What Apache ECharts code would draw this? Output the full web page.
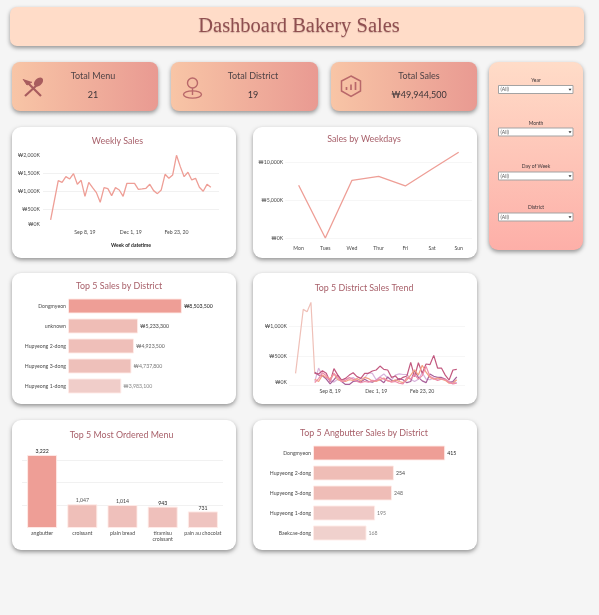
<!DOCTYPE html>
<html>
<head>
<meta charset="utf-8">
<title>Dashboard Bakery Sales</title>
<script src="https://cdn.jsdelivr.net/npm/echarts@6/dist/echarts.min.js"></script>
<style>
html,body{margin:0;padding:0;background:#f5f5f5}
#dash{width:599px;height:615px}
</style>
</head>
<body>
<div id="dash"></div>
<script>
// Week start dates shared by the two weekly line charts (no orders in the week of Jul 14)
const weekStarts = ['2019-07-07','2019-07-21','2019-07-28','2019-08-04','2019-08-11','2019-08-18','2019-08-25','2019-09-01','2019-09-08','2019-09-15','2019-09-22','2019-09-29','2019-10-06','2019-10-13','2019-10-20','2019-10-27','2019-11-03','2019-11-10','2019-11-17','2019-11-24','2019-12-01','2019-12-08','2019-12-15','2019-12-22','2019-12-29','2020-01-05','2020-01-12','2020-01-19','2020-01-26','2020-02-02','2020-02-09','2020-02-16','2020-02-23','2020-03-01','2020-03-08','2020-03-15','2020-03-22','2020-03-29','2020-04-05','2020-04-12','2020-04-19','2020-04-26'];
const weeklySales = [204,1296,1250,1407,1343,1491,1194,1306,861,1250,1102,963,694,1102,1074,880,1102,1037,861,1222,1222,1222,1056,1065,1083,1194,1019,935,1037,1472,1361,1454,2000,1685,1407,1528,1315,1361,1111,1000,1194,1111];
const weekTickDates = ['2019-09-08','2019-12-01','2020-02-23'];
const weekTickLabels = ['Sep 8, 19','Dec 1, 19','Feb 23, 20'];

const weekdays = ['Mon','Tues','Wed','Thur','Fri','Sat','Sun'];
const weekdaySales = [6974,50,7632,8158,6886,9123,11316];

const districtNames = ['Dongmyeon','unknown','Hupyeong 2-dong','Hupyeong 3-dong','Hupyeong 1-dong'];
const districtSales = [8503500,5233300,4923500,4737800,3983100];

// District trends, in thousands of won; the first series only covers the opening weeks
const trendEarly = [200,1297,1257,1417,189];
const trendDongmyeon = [200,190,245,200,57,280,170,85,114,170,210,143,114,200,200,240,257,325,268,257,131,154,85,131,154,388,143,382,200,360,348,508,291,291,170,85,257,268];
const trendMauve = [220,170,160,100,20,90,170,60,10,10,60,70,50,100,60,50,80,90,40,140,80,70,110,90,40,60,250,130,70,40,190,150,130,130,100,40,60,140];
const trendLilac = [60,290,150,120,80,50,100,60,110,100,130,80,110,120,210,200,90,140,190,120,90,170,190,180,180,100,60,100,210,100,90,120,100,120,80,60,40,40];
const trendOrange = [100,60,170,130,110,190,90,70,60,90,80,110,70,130,110,70,60,90,120,70,60,90,60,40,90,170,260,170,340,220,130,100,120,100,80,30,30,90];
const trendPink = [40,110,210,160,70,200,130,60,80,130,100,60,40,60,50,80,70,130,100,80,50,60,30,20,130,100,180,100,160,320,150,110,80,100,100,50,20,30];

const menuNames = ['angbutter','croissant','plain bread','tiramisu\ncroissant','pain au chocolat'];
const menuOrders = [3222,1047,1014,943,731];

const angbutterDistricts = ['Dongmyeon','Hupyeong 2-dong','Hupyeong 3-dong','Hupyeong 1-dong','Baekcae-dong'];
const angbutterOrders = [415,254,248,195,168];

const filterNames = ['Year','Month','Day of Week','District'];
const filterValue = '(All)';
const kpiTitles = ['Total Menu','Total District','Total Sales'];
const kpiValues = ['21','19','₩49,944,500'];

const font = 'Lato, "Noto Sans", sans-serif';
const ROSE = '#ee9e96';
const TITLE_COLOR = '#a8606a';
const LABEL_COLOR = '#4a4a4a';
const GRID_COLOR = '#f1f1f1';
const SMALL = 5.2;

const chart = echarts.init(document.getElementById('dash'), null, {renderer: 'canvas'});

const won = v => '₩' + v.toLocaleString('en-US');
const wonK = v => '₩' + v.toLocaleString('en-US') + 'K';
const ts = s => new Date(s + 'T00:00:00').getTime();
const pairs = (dates, vals) => vals.map((v, i) => [ts(dates[i]), v]);
const lateWeeks = weekStarts.slice(4);

// ---- page furniture: cards, KPI blocks, filter panel, icons ----
const shadow = {shadowColor: 'rgba(0,0,0,0.4)', shadowBlur: 4, shadowOffsetX: 0, shadowOffsetY: 2};
const card = (x, y, w, h, fill, r) => ({
  type: 'rect', z: 0, shape: {x, y, width: w, height: h, r: r || 9},
  style: Object.assign({fill}, shadow)
});
const text = (x, y, t, size, color, extra) => ({
  type: 'text', z: 5, x, y,
  style: Object.assign({text: t, font: size + 'px ' + font, fill: color, align: 'center', verticalAlign: 'middle'}, extra || {})
});
const hGrad = {type: 'linear', x: 0, y: 0, x2: 1, y2: 0, colorStops: [{offset: 0, color: '#f8c5a6'}, {offset: 1, color: '#e99a92'}]};
const vGrad = {type: 'linear', x: 0, y: 0, x2: 0, y2: 1, colorStops: [{offset: 0, color: '#ffdcc8'}, {offset: 1, color: '#fdafa8'}]};

const graphics = [
  card(10, 7, 574, 39, '#ffdcc8', 7),
  {type: 'text', z: 5, x: 299, y: 26.5, style: {
    text: 'Dashboard Bakery Sales', font: '20.5px "Liberation Serif", serif', fill: '#8f4f50',
    align: 'center', verticalAlign: 'middle', textShadowColor: 'rgba(90,50,50,0.25)', textShadowBlur: 1, textShadowOffsetY: 1
  }},
  card(12, 62, 146, 49, hGrad, 8),
  card(171, 62, 147, 49, hGrad, 8),
  card(331, 62, 146, 49, hGrad, 8),
  card(489, 62, 94, 188, vGrad, 9),
  card(12, 127, 224, 131, '#fff'),
  card(253, 127, 224, 131, '#fff'),
  card(12, 273, 224, 131, '#fff'),
  card(253, 273, 224, 131, '#fff'),
  card(12, 420, 224, 130, '#fff'),
  card(253, 420, 224, 130, '#fff')
];

[93, 253, 419].forEach((cx, i) => {
  graphics.push(text(cx, 76.5, kpiTitles[i], 9, '#4f4346'));
  graphics.push(text(cx, 95.5, kpiValues[i], 9, '#3d3538'));
});

// Crossed spoon and fork
const iconFill = '#a85c5e';
const iconStroke = '#b9686a';
graphics.push(
  {type: 'line', z: 5, shape: {x1: 25, y1: 96, x2: 37, y2: 85}, style: {stroke: iconFill, lineWidth: 2.2}},
  {type: 'ellipse', z: 5, rotation: Math.PI / 4, x: 38.5, y: 82, shape: {cx: 0, cy: 0, rx: 5.4, ry: 3.6}, style: {fill: iconFill}},
  {type: 'line', z: 5, shape: {x1: 41, y1: 96, x2: 27, y2: 82}, style: {stroke: iconFill, lineWidth: 2.2}},
  {type: 'polyline', z: 5, shape: {points: [[23, 79], [27, 85], [32, 82]]}, style: {stroke: iconFill, fill: iconFill, lineWidth: 1}}
);
// Map pin on a ring
graphics.push(
  {type: 'circle', z: 5, shape: {cx: 192.5, cy: 83, r: 5}, style: {stroke: iconStroke, fill: 'none', lineWidth: 1.4}},
  {type: 'line', z: 5, shape: {x1: 192.5, y1: 88, x2: 192.5, y2: 95}, style: {stroke: iconStroke, lineWidth: 1.4}},
  {type: 'ellipse', z: 5, shape: {cx: 192.5, cy: 94.5, rx: 9, ry: 3.6}, style: {stroke: iconStroke, fill: 'none', lineWidth: 1.4}}
);
// Hexagon with a small bar chart
graphics.push(
  {type: 'polygon', z: 5, shape: {points: [[351, 76], [360.5, 81], [360.5, 91], [351, 96.5], [341.5, 91], [341.5, 81]]}, style: {stroke: iconStroke, fill: 'none', lineWidth: 1.5}},
  {type: 'line', z: 5, shape: {x1: 346.5, y1: 90, x2: 346.5, y2: 87}, style: {stroke: iconStroke, lineWidth: 1.7}},
  {type: 'line', z: 5, shape: {x1: 351, y1: 90, x2: 351, y2: 84.5}, style: {stroke: iconStroke, lineWidth: 1.7}},
  {type: 'line', z: 5, shape: {x1: 355.5, y1: 90, x2: 355.5, y2: 82}, style: {stroke: iconStroke, lineWidth: 1.7}}
);

// Filter dropdowns
const filterRows = [[80, 85.5], [123, 128], [166, 172], [207, 213]];
filterNames.forEach((name, i) => {
  const [ly, by] = filterRows[i];
  graphics.push(
    text(536, ly, name, 5, '#3d3538'),
    {type: 'rect', z: 5, shape: {x: 498.5, y: by, width: 74.5, height: 8}, style: {fill: '#fff', stroke: '#a3a3a3', lineWidth: 1}},
    text(500.5, by + 4, filterValue, 5, '#555', {align: 'left'}),
    {type: 'polygon', z: 6, shape: {points: [[568.5, by + 3.2], [571.5, by + 3.2], [570, by + 5.2]]}, style: {fill: '#333'}}
  );
});

// ---- chart panels ----
const titles = [
  ['Weekly Sales', 117.5, 141],
  ['Sales by Weekdays', 364, 139],
  ['Top 5 Sales by District', 119, 286],
  ['Top 5 District Sales Trend', 364, 288],
  ['Top 5 Most Ordered Menu', 121.5, 435],
  ['Top 5 Angbutter Sales by District', 364, 433]
];
titles.forEach(([t, x, y]) => graphics.push(text(x, y, t, 8.9, TITLE_COLOR)));

const grids = [
  {left: 43, width: 176, top: 155.3, height: 72},
  {left: 285.3, width: 186.7, top: 162.3, height: 76},
  {left: 68, width: 150, top: 296, height: 100},
  {left: 289, width: 176, top: 326.7, height: 58.3},
  {left: 22, width: 201, top: 460, height: 68},
  {left: 313, width: 150, top: 443, height: 100}
];

const smallLabel = {fontFamily: font, fontSize: SMALL, color: LABEL_COLOR};
const splitLine = {show: true, lineStyle: {color: GRID_COLOR, width: 1}};
const hidden = {axisLine: {show: false}, axisTick: {show: false}};
// Weekly axes are numeric timestamps so that only the three dated ticks get a label
const weekAxis = (gridIndex, min, max, margin, extra) => Object.assign({
  type: 'value', gridIndex, min: ts(min), max: ts(max), scale: true,
  splitLine: {show: false}, ...hidden,
  axisLabel: Object.assign({}, smallLabel, {
    customValues: weekTickDates.map(ts),
    margin,
    formatter: v => weekTickLabels[weekTickDates.map(ts).indexOf(v)] || ''
  })
}, extra || {});

const xAxes = [
  weekAxis(0, '2019-06-23', '2020-05-11', 3, {
    name: 'Week of datetime', nameLocation: 'middle', nameGap: 16,
    nameTextStyle: {fontFamily: font, fontSize: 5, fontWeight: 'bold', color: '#222'}
  }),
  {type: 'category', gridIndex: 1, data: weekdays, ...hidden, axisLabel: Object.assign({}, smallLabel, {margin: 8}), splitLine: {show: false}},
  {type: 'value', gridIndex: 2, min: 0, max: 11200000, show: false},
  weekAxis(3, '2019-06-25', '2020-05-11', 4),
  {type: 'category', gridIndex: 4, data: menuNames, ...hidden, axisLabel: Object.assign({}, smallLabel, {margin: 2.5, lineHeight: 6, interval: 0})},
  {type: 'value', gridIndex: 5, min: 0, max: 471, show: false}
];

const yAxes = [
  {type: 'value', gridIndex: 0, min: 0, max: 2000, interval: 500, ...hidden,
   splitLine: Object.assign({}, splitLine, {showMinLine: false, showMaxLine: false}),
   axisLabel: Object.assign({}, smallLabel, {margin: 3, formatter: wonK, verticalAlignMinLabel: 'bottom'})},
  {type: 'value', gridIndex: 1, min: 0, max: 10000, interval: 5000, ...hidden,
   splitLine: {show: true, lineStyle: {color: '#f6f6f6', width: 1}},
   axisLabel: Object.assign({}, smallLabel, {margin: 2, formatter: wonK})},
  {type: 'category', gridIndex: 2, inverse: true, data: districtNames, ...hidden, axisLabel: Object.assign({}, smallLabel, {margin: 2, interval: 0})},
  {type: 'value', gridIndex: 3, min: 0, max: 1000, interval: 500, ...hidden,
   splitLine: {show: true, lineStyle: {color: '#f6f6f6', width: 1}},
   axisLabel: Object.assign({}, smallLabel, {margin: 2, formatter: wonK, verticalAlignMinLabel: 'bottom'})},
  {type: 'value', gridIndex: 4, min: 0, max: 3000, interval: 1000, show: true, ...hidden,
   axisLabel: {show: false}, splitLine: Object.assign({}, splitLine, {showMinLine: false})},
  {type: 'category', gridIndex: 5, inverse: true, data: angbutterDistricts, ...hidden, axisLabel: Object.assign({}, smallLabel, {margin: 2, interval: 0})}
];

const trendLine = (data, color) => ({
  type: 'line', xAxisIndex: 3, yAxisIndex: 3, data, showSymbol: false, clip: false,
  lineStyle: {color, width: 1.2}, emphasis: {disabled: true}
});

// Bar shading and value-label tone both fall off with rank
const districtBarColors = ['#ee9e96', '#efbdb6', '#efbfb9', '#eec0ba', '#f0cdc9'];
const menuBarColors = ['#ee9e96', '#efbfb9', '#efc0bb', '#efc0bb', '#efc4c0'];
const angbutterBarColors = ['#ee9e96', '#efbdb6', '#efbdb7', '#f0cbc7', '#f0d1cd'];
const labelTones = ['#222', '#444', '#666', '#777', '#888'];
const colored = (vals, colors, tones) => vals.map((value, i) => ({
  value,
  itemStyle: {color: colors[i], borderColor: 'rgba(255,235,232,0.9)', borderWidth: 1},
  label: {color: tones[i]}
}));

const series = [
  {type: 'line', xAxisIndex: 0, yAxisIndex: 0, data: pairs(weekStarts, weeklySales), showSymbol: false, clip: false,
   lineStyle: {color: ROSE, width: 1.3}},
  {type: 'line', xAxisIndex: 1, yAxisIndex: 1, data: weekdaySales, showSymbol: false, clip: false,
   lineStyle: {color: ROSE, width: 1.3}},
  {type: 'bar', xAxisIndex: 2, yAxisIndex: 2, data: colored(districtSales, districtBarColors, labelTones), barWidth: 15,
   label: {show: true, position: 'right', distance: 2, fontFamily: font, fontSize: SMALL, formatter: p => won(p.value)}},
  trendLine(pairs(weekStarts, trendEarly), '#efc0b8'),
  trendLine(pairs(lateWeeks, trendLilac), '#d8b4dc'),
  trendLine(pairs(lateWeeks, trendMauve), '#a8609a'),
  trendLine(pairs(lateWeeks, trendDongmyeon), '#c2587f'),
  trendLine(pairs(lateWeeks, trendOrange), '#f3a183'),
  trendLine(pairs(lateWeeks, trendPink), '#ee8ba8'),
  {type: 'bar', xAxisIndex: 4, yAxisIndex: 4, data: colored(menuOrders, menuBarColors, ['#222', '#555', '#444', '#222', '#333']), barWidth: 30, clip: false,
   label: {show: true, position: 'top', distance: 1, fontFamily: font, fontSize: SMALL, formatter: p => p.value.toLocaleString('en-US')}},
  {type: 'bar', xAxisIndex: 5, yAxisIndex: 5, data: colored(angbutterOrders, angbutterBarColors, labelTones), barWidth: 15,
   label: {show: true, position: 'right', distance: 2, fontFamily: font, fontSize: SMALL}}
];

chart.setOption({
  animation: false,
  backgroundColor: '#f5f5f5',
  graphic: {elements: graphics},
  grid: grids,
  xAxis: xAxes,
  yAxis: yAxes,
  series
});
</script>
</body>
</html>
